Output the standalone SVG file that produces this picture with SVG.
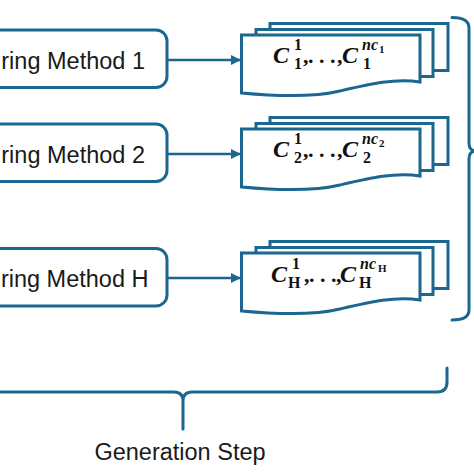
<svg xmlns="http://www.w3.org/2000/svg" width="474" height="474" viewBox="0 0 474 474">
<style>
.ln{fill:none;stroke:#1b6790;stroke-width:3;stroke-linecap:round;stroke-linejoin:round}
.bx{fill:#fff;stroke:#1b6790;stroke-width:3}
.pg{fill:#fff;stroke:#1b6790;stroke-width:3;stroke-linejoin:miter}
.lbl{font-family:"Liberation Sans",Arial,sans-serif;font-size:23.5px;fill:#1a1a1a}
.m{font-family:"Liberation Serif","Times New Roman",serif;font-weight:bold;fill:#111}
.C{font-size:24px;font-style:italic}
.s{font-size:16px}
.si{font-size:16px;font-style:italic}
.ss{font-size:11px}
.p{font-size:22px}
.ar{fill:none;stroke:#1b6790;stroke-width:2.5}
</style>
<defs>
<marker id="ah" viewBox="0 0 10 10" refX="9" refY="5" markerWidth="4" markerHeight="4" orient="auto" markerUnits="strokeWidth">
<path d="M0,0 L10,5 L0,10 z" fill="#1b6790"/>
</marker>
<g id="stack">
<rect class="pg" x="270" y="23.5" width="178" height="47"/>
<rect class="pg" x="256" y="29.5" width="177" height="47"/>
<path class="pg" d="M241.5,35 H420 V82 C395,78 370,84 340,91 C315,97 285,97 241.5,93 Z"/>
</g>
</defs>
<g id="connectors">
<line class="ar" x1="168" y1="60" x2="240" y2="60" marker-end="url(#ah)"/>
<line class="ar" x1="168" y1="154" x2="240" y2="154" marker-end="url(#ah)"/>
<line class="ar" x1="168" y1="278" x2="240" y2="278" marker-end="url(#ah)"/>
</g>
<g id="method1">
<rect class="bx" x="-30" y="30" width="197" height="57.5" rx="11"/>
<text class="lbl" x="145" y="69" text-anchor="end">ring Method 1</text>
</g>
<g id="method2">
<rect class="bx" x="-30" y="124" width="197" height="57.5" rx="11"/>
<text class="lbl" x="145" y="163" text-anchor="end">ring Method 2</text>
</g>
<g id="methodH">
<rect class="bx" x="-30" y="248.5" width="197" height="57.5" rx="11"/>
<text class="lbl" x="148.5" y="287" text-anchor="end">ring Method H</text>
</g>
<g id="clusters1">
<use href="#stack"/>
<text class="m"><tspan class="C" x="273" y="63">C</tspan><tspan class="s" x="294" y="50">1</tspan><tspan class="s" x="294" y="69">1</tspan><tspan class="p" x="303" y="63">,</tspan><tspan class="p" x="308" y="63">.</tspan><tspan class="p" x="319" y="63">.</tspan><tspan class="p" x="330" y="63">.</tspan><tspan class="p" x="337" y="63">,</tspan><tspan class="C" x="342" y="63">C</tspan><tspan class="si" x="362" y="50">nc</tspan><tspan class="ss" x="379" y="53">1</tspan><tspan class="s" x="363" y="69">1</tspan></text>
</g>
<g id="clusters2">
<use href="#stack" y="94"/>
<text class="m"><tspan class="C" x="273" y="157">C</tspan><tspan class="s" x="294" y="144">1</tspan><tspan class="s" x="294" y="163">2</tspan><tspan class="p" x="303" y="157">,</tspan><tspan class="p" x="308" y="157">.</tspan><tspan class="p" x="319" y="157">.</tspan><tspan class="p" x="330" y="157">.</tspan><tspan class="p" x="337" y="157">,</tspan><tspan class="C" x="342" y="157">C</tspan><tspan class="si" x="362" y="144">nc</tspan><tspan class="ss" x="379" y="147">2</tspan><tspan class="s" x="363" y="163">2</tspan></text>
</g>
<g id="clustersH">
<use href="#stack" y="218"/>
<text class="m"><tspan class="C" x="271" y="282">C</tspan><tspan class="s" x="292" y="269">1</tspan><tspan class="s" x="288" y="288">H</tspan><tspan class="p" x="304" y="282">,</tspan><tspan class="p" x="309" y="282">.</tspan><tspan class="p" x="320" y="282">.</tspan><tspan class="p" x="331" y="282">.</tspan><tspan class="p" x="336" y="282">,</tspan><tspan class="C" x="340" y="282">C</tspan><tspan class="si" x="360" y="269">nc</tspan><tspan class="ss" x="378" y="272">H</tspan><tspan class="s" x="359" y="288">H</tspan></text>
</g>
<g id="braces">
<path class="ln" d="M452,17.5 Q469,17.5 469,28 V143 Q469,151 476,151 M476,151 Q469,151 469,159 V310 Q469,320 452,320"/>
<path class="ln" d="M-5,392 H174 Q183,392 183,401 V429 M183,401 Q183,392 192,392 H437 Q447,392 447,382 V368"/>
</g>
<g id="label">
<text class="lbl" x="180" y="460" text-anchor="middle">Generation Step</text>
</g>
</svg>
